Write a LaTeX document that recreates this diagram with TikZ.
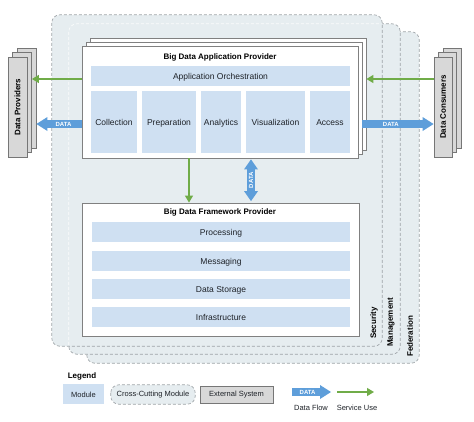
\documentclass[tikz,border=0pt]{standalone}
\usepackage{fontspec}
\setmainfont{Liberation Sans}
\usetikzlibrary{arrows.meta}
\usetikzlibrary{fit}
\definecolor{modfill}{RGB}{207,224,242}
\definecolor{xcutfill}{RGB}{230,237,240}
\definecolor{xcutline}{RGB}{158,164,168}
\definecolor{xcutpale}{RGB}{250,252,252}
\definecolor{extfill}{RGB}{216,216,216}
\definecolor{extline}{RGB}{118,118,118}
\definecolor{boxline}{RGB}{128,128,128}
\definecolor{flowblue}{RGB}{94,158,218}
\definecolor{usegreen}{RGB}{112,172,72}
\definecolor{textdark}{RGB}{30,34,40}
\newcommand{\modfont}{\fontsize{8.5}{10}\selectfont}
\newcommand{\titlefont}{\fontsize{8}{9.6}\selectfont}
\newcommand{\legfont}{\fontsize{7.5}{9}\selectfont}
\newcommand{\boxcell}[7]{\node[#1, minimum width={(#5-#3)*1pt}, minimum height={(#6-#4)*1pt}] (#2) at ({(#3+#5)/2},{(#4+#6)/2}) {#7};}
\tikzset{
  module/.style={fill=modfill, inner sep=0pt, font=\modfont, text=textdark, text height=1.6ex, text depth=0.4ex},
  xcut/.style={fill=xcutfill, inner sep=0pt, rounded corners=8pt},
  xcutborder/.style={draw=xcutline, line width=0.7pt, dash pattern=on 3pt off 2pt, rounded corners=8pt},
  xcutlabel/.style={font=\titlefont\bfseries, inner sep=0pt, rotate=90, anchor=west},
  provider/.style={draw=boxline, fill=white, line width=0.8pt, inner sep=0pt},
  title/.style={font=\titlefont\bfseries, inner sep=0pt},
  extsys/.style={draw=extline, fill=extfill, line width=0.8pt, inner sep=0pt},
  exttext/.style={font=\titlefont\bfseries, inner sep=0pt, rotate=90},
  dataflow/.style={draw=flowblue, line width=7.5pt, -{Triangle[length=11pt,width=14pt,line width=0pt]}},
  dataflow2/.style={draw=flowblue, line width=7.5pt, {Triangle[length=10pt,width=14pt,line width=0pt]}-{Triangle[length=10pt,width=14pt,line width=0pt]}},
  datalbl/.style={font=\fontsize{6}{6}\selectfont\bfseries, text=white, inner sep=0pt},
  svcuse/.style={draw=usegreen, line width=1.2pt, -{Triangle[length=7pt,width=8pt]}},
  legtext/.style={font=\legfont, inner sep=0pt, text=textdark}
}

\begin{document}
\begin{tikzpicture}[x=1pt, y=-1pt]
        \useasboundingbox (0,0) rectangle (474,421);
        % cross-cutting modules
        \node[xcut, fit={(87,32) (419,363)}] (fed) {};
        \draw[xcutborder] (fed.north west) rectangle (fed.south east);
        \node[xcut, fit={(69,24) (400,354)}] (mgmt) {};
        \draw[xcutborder] (mgmt.north west) rectangle (mgmt.south east);
        \node[xcut, fit={(52,15) (382,346)}] (sec) {};
        \begin{scope}
            \clip[rounded corners=8pt] ([shift={(1pt,-1pt)}]sec.north west) rectangle ([shift={(-1pt,1pt)}]sec.south east);
            \draw[xcutborder, draw=xcutpale] (mgmt.north west) rectangle (mgmt.south east);
        \end{scope}
        \draw[xcutborder] (sec.north west) rectangle (sec.south east);
        \node[xcutlabel] (seclbl) at (374,339) {Security};
        \node[xcutlabel] (mgmtlbl) at (391,347) {Management};
        \node[xcutlabel] (fedlbl) at (410,357) {Federation};
        % application provider
        \node[provider, fit={(90,38) (366,150)}] (app3) {};
        \node[provider, fit={(86,42) (362,154)}] (app2) {};
        \node[provider, fit={(82,46) (358,158)}] (app) {};
        \node[title] (apptitle) at (220,57) {Big Data Application Provider};
        \boxcell{module}{orch}{91}{66}{350}{86}{Application Orchestration}
        \boxcell{module}{coll}{91}{91}{137}{153}{Collection}
        \boxcell{module}{prep}{142}{91}{196}{153}{Preparation}
        \boxcell{module}{anal}{201}{91}{241}{153}{Analytics}
        \boxcell{module}{visu}{246}{91}{305}{153}{Visualization}
        \boxcell{module}{acc}{310}{91}{350}{153}{Access}
        % framework provider
        \node[provider, fit={(82,203) (359,336)}] (fw) {};
        \node[title] (fwtitle) at (220,212) {Big Data Framework Provider};
        \boxcell{module}{proc}{92}{222}{350}{242}{Processing}
        \boxcell{module}{msg}{92}{251}{350}{271}{Messaging}
        \boxcell{module}{store}{92}{279}{350}{299}{Data Storage}
        \boxcell{module}{infra}{92}{307}{350}{327}{Infrastructure}
        % external systems
        \node[extsys, fit={(17,48) (36,148)}] (dp3) {};
        \node[extsys, fit={(12.5,52.5) (31.5,152.5)}] (dp2) {};
        \node[extsys, fit={(8,57) (27,157)}] (dp) {};
        \node[exttext] (dplbl) at (dp.center) {Data Providers};
        \node[extsys, fit={(443,48) (461,148)}] (dc3) {};
        \node[extsys, fit={(438.5,52.5) (456.5,152.5)}] (dc2) {};
        \node[extsys, fit={(434,57) (452,157)}] (dc) {};
        \node[exttext] (dclbl) at (dc.center) {Data Consumers};
        % connectors
        \coordinate (svcrow) at (0,79);
        \coordinate (flowrow) at (0,124);
        \coordinate (svccol) at (189,0);
        \coordinate (flowcol) at (251,0);
        \draw[svcuse] (app.west |- svcrow) -- (dp2.east |- svcrow);
        \draw[svcuse] (dc.west |- svcrow) -- (app3.east |- svcrow);
        \draw[dataflow] (app.west |- flowrow) -- node[datalbl, pos=0.4] (dpdata) {DATA} (dp3.east |- flowrow);
        \draw[dataflow] (app2.east |- flowrow) -- node[datalbl, pos=0.4] (dcdata) {DATA} (dc.west |- flowrow);
        \draw[svcuse] (app.south -| svccol) -- (fw.north -| svccol);
        \draw[dataflow2] ([yshift=-1pt]app.south -| flowcol) -- node[datalbl, rotate=90] (fwdata) {DATA} ([yshift=1.5pt]fw.north -| flowcol);
        % legend
        \node[title] (leghead) at (82,376) {Legend};
        \boxcell{module, font=\legfont}{legmod}{63}{384}{104}{404}{Module}
        \boxcell{xcut, font=\legfont, text=textdark}{legxcut}{111}{385}{195}{404}{Cross-Cutting Module}
        \draw[xcutborder] (legxcut.north west) rectangle (legxcut.south east);
        \boxcell{extsys, font=\legfont, text=textdark}{legext}{200}{386}{273}{403}{External System}
        \coordinate (legflowa) at (292,392);
        \coordinate (legflowb) at (331,392);
        \draw[dataflow] (legflowa) -- node[datalbl, pos=0.4] (legdata) {DATA} (legflowb);
        \node[legtext] (legflow) at (311,408) {Data Flow};
        \coordinate (legsvca) at (337,392);
        \coordinate (legsvcb) at (374,392);
        \draw[svcuse] (legsvca) -- (legsvcb);
        \node[legtext] (legsvc) at (357,408) {Service Use};
\end{tikzpicture}
\end{document}
